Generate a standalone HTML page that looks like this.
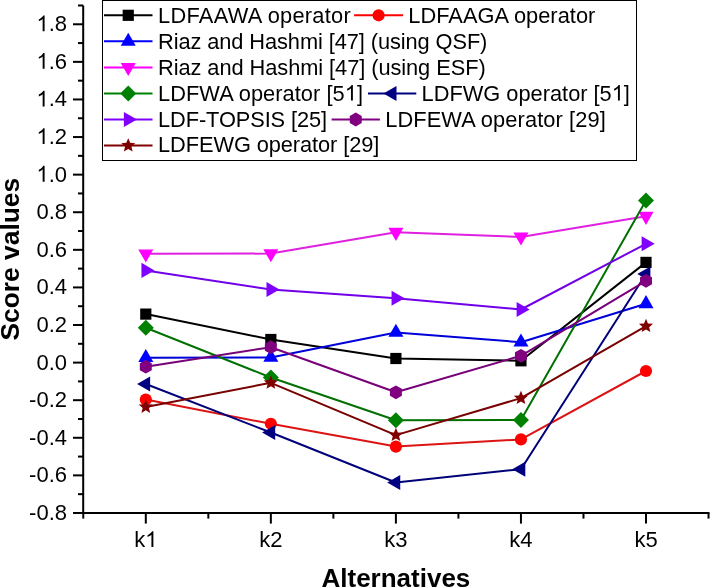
<!DOCTYPE html><html><head><meta charset="utf-8"><style>html,body{margin:0;padding:0;background:#fff;width:710px;height:588px;overflow:hidden}svg{display:block}text{font-family:"Liberation Sans", sans-serif}</style></head><body>
<div style="will-change:transform">
<svg width="710" height="588" viewBox="0 0 710 588">
<rect x="0" y="0" width="710" height="588" fill="#fff"/>
<g stroke="#000" stroke-width="2" fill="none">
<line x1="83.2" y1="5.475999999999999" x2="83.2" y2="514.0"/>
<line x1="82.2" y1="513.0" x2="709.5" y2="513.0"/>
<line x1="73.0" y1="512.97" x2="83.2" y2="512.97"/>
<line x1="78.0" y1="494.17" x2="83.2" y2="494.17"/>
<line x1="73.0" y1="475.38" x2="83.2" y2="475.38"/>
<line x1="78.0" y1="456.58" x2="83.2" y2="456.58"/>
<line x1="73.0" y1="437.78" x2="83.2" y2="437.78"/>
<line x1="78.0" y1="418.99" x2="83.2" y2="418.99"/>
<line x1="73.0" y1="400.19" x2="83.2" y2="400.19"/>
<line x1="78.0" y1="381.40" x2="83.2" y2="381.40"/>
<line x1="73.0" y1="362.60" x2="83.2" y2="362.60"/>
<line x1="78.0" y1="343.80" x2="83.2" y2="343.80"/>
<line x1="73.0" y1="325.01" x2="83.2" y2="325.01"/>
<line x1="78.0" y1="306.21" x2="83.2" y2="306.21"/>
<line x1="73.0" y1="287.42" x2="83.2" y2="287.42"/>
<line x1="78.0" y1="268.62" x2="83.2" y2="268.62"/>
<line x1="73.0" y1="249.82" x2="83.2" y2="249.82"/>
<line x1="78.0" y1="231.03" x2="83.2" y2="231.03"/>
<line x1="73.0" y1="212.23" x2="83.2" y2="212.23"/>
<line x1="78.0" y1="193.44" x2="83.2" y2="193.44"/>
<line x1="73.0" y1="174.64" x2="83.2" y2="174.64"/>
<line x1="78.0" y1="155.84" x2="83.2" y2="155.84"/>
<line x1="73.0" y1="137.05" x2="83.2" y2="137.05"/>
<line x1="78.0" y1="118.25" x2="83.2" y2="118.25"/>
<line x1="73.0" y1="99.46" x2="83.2" y2="99.46"/>
<line x1="78.0" y1="80.66" x2="83.2" y2="80.66"/>
<line x1="73.0" y1="61.86" x2="83.2" y2="61.86"/>
<line x1="78.0" y1="43.07" x2="83.2" y2="43.07"/>
<line x1="73.0" y1="24.27" x2="83.2" y2="24.27"/>
<line x1="78.0" y1="5.48" x2="83.2" y2="5.48"/>
<line x1="83.28" y1="513.0" x2="83.28" y2="518.6"/>
<line x1="145.80" y1="513.0" x2="145.80" y2="523.6"/>
<line x1="208.33" y1="513.0" x2="208.33" y2="518.6"/>
<line x1="270.85" y1="513.0" x2="270.85" y2="523.6"/>
<line x1="333.38" y1="513.0" x2="333.38" y2="518.6"/>
<line x1="395.90" y1="513.0" x2="395.90" y2="523.6"/>
<line x1="458.43" y1="513.0" x2="458.43" y2="518.6"/>
<line x1="520.95" y1="513.0" x2="520.95" y2="523.6"/>
<line x1="583.48" y1="513.0" x2="583.48" y2="518.6"/>
<line x1="646.00" y1="513.0" x2="646.00" y2="523.6"/>
<line x1="708.53" y1="513.0" x2="708.53" y2="518.6"/>
</g>
<g font-size="22" text-anchor="end" fill="#000">
<text id="t0" x="67" y="519.97">-0.8</text>
<text id="t1" x="67" y="482.38">-0.6</text>
<text id="t2" x="67" y="444.78">-0.4</text>
<text id="t3" x="67" y="407.19">-0.2</text>
<text id="t4" x="67" y="369.60">0.0</text>
<text id="t5" x="67" y="332.01">0.2</text>
<text id="t6" x="67" y="294.42">0.4</text>
<text id="t7" x="67" y="256.82">0.6</text>
<text id="t8" x="67" y="219.23">0.8</text>
<text id="t9" x="67" y="181.64"><tspan fill="transparent">1</tspan>.0</text><path d="M763 0h-180v1147q-65 -62 -170.5 -124t-189.5 -93v174q151 71 264 172t160 196h116v-1472z" fill="#000" transform="translate(36.391 181.640) scale(0.010742 -0.010742)"/>
<text id="t10" x="67" y="144.05"><tspan fill="transparent">1</tspan>.2</text><path d="M763 0h-180v1147q-65 -62 -170.5 -124t-189.5 -93v174q151 71 264 172t160 196h116v-1472z" fill="#000" transform="translate(36.391 144.050) scale(0.010742 -0.010742)"/>
<text id="t11" x="67" y="106.46"><tspan fill="transparent">1</tspan>.4</text><path d="M763 0h-180v1147q-65 -62 -170.5 -124t-189.5 -93v174q151 71 264 172t160 196h116v-1472z" fill="#000" transform="translate(36.391 106.460) scale(0.010742 -0.010742)"/>
<text id="t12" x="67" y="68.86"><tspan fill="transparent">1</tspan>.6</text><path d="M763 0h-180v1147q-65 -62 -170.5 -124t-189.5 -93v174q151 71 264 172t160 196h116v-1472z" fill="#000" transform="translate(36.391 68.860) scale(0.010742 -0.010742)"/>
<text id="t13" x="67" y="31.27"><tspan fill="transparent">1</tspan>.8</text><path d="M763 0h-180v1147q-65 -62 -170.5 -124t-189.5 -93v174q151 71 264 172t160 196h116v-1472z" fill="#000" transform="translate(36.391 31.270) scale(0.010742 -0.010742)"/>
</g>
<g font-size="22" text-anchor="middle" fill="#000">
<text id="t14" x="145.80" y="547">k<tspan fill="transparent">1</tspan></text><path d="M763 0h-180v1147q-65 -62 -170.5 -124t-189.5 -93v174q151 71 264 172t160 196h116v-1472z" fill="#000" transform="translate(145.175 547.000) scale(0.010742 -0.010742)"/>
<text id="t15" x="270.85" y="547">k2</text>
<text id="t16" x="395.90" y="547">k3</text>
<text id="t17" x="520.95" y="547">k4</text>
<text id="t18" x="646.00" y="547">k5</text>
</g>
<text x="19.4" y="259.2" font-size="26.4" font-weight="bold" text-anchor="middle" transform="rotate(-90 19.4 259.2)">Score values</text>
<text x="395.9" y="587" font-size="26" font-weight="bold" text-anchor="middle">Alternatives</text>
<polyline points="145.80,314.10 270.85,339.50 395.90,358.50 520.95,360.80 646.00,262.40" fill="none" stroke="#000000" stroke-width="2" stroke-linejoin="round"/>
<rect x="140.20" y="308.50" width="11.20" height="11.20" fill="#000000"/>
<rect x="265.25" y="333.90" width="11.20" height="11.20" fill="#000000"/>
<rect x="390.30" y="352.90" width="11.20" height="11.20" fill="#000000"/>
<rect x="515.35" y="355.20" width="11.20" height="11.20" fill="#000000"/>
<rect x="640.40" y="256.80" width="11.20" height="11.20" fill="#000000"/>
<polyline points="145.80,399.50 270.85,423.80 395.90,446.60 520.95,439.40 646.00,371.00" fill="none" stroke="#DC1414" stroke-width="2" stroke-linejoin="round"/>
<circle cx="145.80" cy="399.50" r="6.1" fill="#FF0000"/>
<circle cx="270.85" cy="423.80" r="6.1" fill="#FF0000"/>
<circle cx="395.90" cy="446.60" r="6.1" fill="#FF0000"/>
<circle cx="520.95" cy="439.40" r="6.1" fill="#FF0000"/>
<circle cx="646.00" cy="371.00" r="6.1" fill="#FF0000"/>
<polyline points="145.80,357.70 270.85,357.40 395.90,332.40 520.95,342.20 646.00,303.80" fill="none" stroke="#0000D8" stroke-width="2" stroke-linejoin="round"/>
<polygon points="145.80,349.00 153.33,362.05 138.27,362.05" fill="#0000FF"/>
<polygon points="270.85,348.70 278.38,361.75 263.32,361.75" fill="#0000FF"/>
<polygon points="395.90,323.70 403.43,336.75 388.37,336.75" fill="#0000FF"/>
<polygon points="520.95,333.50 528.48,346.55 513.42,346.55" fill="#0000FF"/>
<polygon points="646.00,295.10 653.53,308.15 638.47,308.15" fill="#0000FF"/>
<polyline points="145.80,253.80 270.85,253.60 395.90,232.20 520.95,236.90 646.00,216.20" fill="none" stroke="#E020E0" stroke-width="2" stroke-linejoin="round"/>
<polygon points="145.80,262.50 138.27,249.45 153.33,249.45" fill="#FF00FF"/>
<polygon points="270.85,262.30 263.32,249.25 278.38,249.25" fill="#FF00FF"/>
<polygon points="395.90,240.90 388.37,227.85 403.43,227.85" fill="#FF00FF"/>
<polygon points="520.95,245.60 513.42,232.55 528.48,232.55" fill="#FF00FF"/>
<polygon points="646.00,224.90 638.47,211.85 653.53,211.85" fill="#FF00FF"/>
<polyline points="145.80,327.70 270.85,377.50 395.90,420.30 520.95,420.10 646.00,200.40" fill="none" stroke="#007000" stroke-width="2" stroke-linejoin="round"/>
<polygon points="145.80,319.70 153.80,327.70 145.80,335.70 137.80,327.70" fill="#008000"/>
<polygon points="270.85,369.50 278.85,377.50 270.85,385.50 262.85,377.50" fill="#008000"/>
<polygon points="395.90,412.30 403.90,420.30 395.90,428.30 387.90,420.30" fill="#008000"/>
<polygon points="520.95,412.10 528.95,420.10 520.95,428.10 512.95,420.10" fill="#008000"/>
<polygon points="646.00,192.40 654.00,200.40 646.00,208.40 638.00,200.40" fill="#008000"/>
<polyline points="145.80,384.00 270.85,432.50 395.90,482.50 520.95,469.20 646.00,274.00" fill="none" stroke="#000078" stroke-width="2" stroke-linejoin="round"/>
<polygon points="137.10,384.00 150.15,376.47 150.15,391.53" fill="#000080"/>
<polygon points="262.15,432.50 275.20,424.97 275.20,440.03" fill="#000080"/>
<polygon points="387.20,482.50 400.25,474.97 400.25,490.03" fill="#000080"/>
<polygon points="512.25,469.20 525.30,461.67 525.30,476.73" fill="#000080"/>
<polygon points="637.30,274.00 650.35,266.47 650.35,281.53" fill="#000080"/>
<polyline points="145.80,270.40 270.85,289.50 395.90,298.30 520.95,309.50 646.00,243.80" fill="none" stroke="#7000E8" stroke-width="2" stroke-linejoin="round"/>
<polygon points="154.50,270.40 141.45,277.93 141.45,262.87" fill="#8000FF"/>
<polygon points="279.55,289.50 266.50,297.03 266.50,281.97" fill="#8000FF"/>
<polygon points="404.60,298.30 391.55,305.83 391.55,290.77" fill="#8000FF"/>
<polygon points="529.65,309.50 516.60,317.03 516.60,301.97" fill="#8000FF"/>
<polygon points="654.70,243.80 641.65,251.33 641.65,236.27" fill="#8000FF"/>
<polyline points="145.80,366.70 270.85,347.20 395.90,392.30 520.95,355.80 646.00,280.80" fill="none" stroke="#780078" stroke-width="2" stroke-linejoin="round"/>
<polygon points="145.80,359.80 151.78,363.25 151.78,370.15 145.80,373.60 139.82,370.15 139.82,363.25" fill="#800080"/>
<polygon points="270.85,340.30 276.83,343.75 276.83,350.65 270.85,354.10 264.87,350.65 264.87,343.75" fill="#800080"/>
<polygon points="395.90,385.40 401.88,388.85 401.88,395.75 395.90,399.20 389.92,395.75 389.92,388.85" fill="#800080"/>
<polygon points="520.95,348.90 526.93,352.35 526.93,359.25 520.95,362.70 514.97,359.25 514.97,352.35" fill="#800080"/>
<polygon points="646.00,273.90 651.98,277.35 651.98,284.25 646.00,287.70 640.02,284.25 640.02,277.35" fill="#800080"/>
<polyline points="145.80,406.90 270.85,382.80 395.90,435.10 520.95,398.10 646.00,326.10" fill="none" stroke="#780000" stroke-width="2" stroke-linejoin="round"/>
<polygon points="145.80,399.50 147.76,404.21 152.84,404.61 148.97,407.93 150.15,412.89 145.80,410.23 141.45,412.89 142.63,407.93 138.76,404.61 143.84,404.21" fill="#800000"/>
<polygon points="270.85,375.40 272.81,380.11 277.89,380.51 274.02,383.83 275.20,388.79 270.85,386.13 266.50,388.79 267.68,383.83 263.81,380.51 268.89,380.11" fill="#800000"/>
<polygon points="395.90,427.70 397.86,432.41 402.94,432.81 399.07,436.13 400.25,441.09 395.90,438.43 391.55,441.09 392.73,436.13 388.86,432.81 393.94,432.41" fill="#800000"/>
<polygon points="520.95,390.70 522.91,395.41 527.99,395.81 524.12,399.13 525.30,404.09 520.95,401.43 516.60,404.09 517.78,399.13 513.91,395.81 518.99,395.41" fill="#800000"/>
<polygon points="646.00,318.70 647.96,323.41 653.04,323.81 649.17,327.13 650.35,332.09 646.00,329.43 641.65,332.09 642.83,327.13 638.96,323.81 644.04,323.41" fill="#800000"/>
<rect x="102.5" y="0.5" width="534" height="160" fill="#fff" stroke="#000" stroke-width="1"/>
<line x1="104" y1="15.30" x2="152.5" y2="15.30" stroke="#000000" stroke-width="2"/>
<rect x="122.65" y="9.70" width="11.20" height="11.20" fill="#000000"/>
<text id="t19" x="158" y="22.70" font-size="21.8" fill="#000" textLength="192.75" lengthAdjust="spacing">LDFAAWA operator</text>
<line x1="354.1" y1="15.30" x2="403.1" y2="15.30" stroke="#FF0000" stroke-width="2"/>
<circle cx="378.60" cy="15.30" r="6.1" fill="#FF0000"/>
<text id="t20" x="408.3" y="22.70" font-size="21.8" fill="#000" textLength="187.00" lengthAdjust="spacing">LDFAAGA operator</text>
<line x1="104" y1="41.35" x2="152.5" y2="41.35" stroke="#0000FF" stroke-width="2"/>
<polygon points="128.25,32.65 135.78,45.70 120.72,45.70" fill="#0000FF"/>
<text id="t21" x="158" y="48.65" font-size="21.8" fill="#000" textLength="329.39" lengthAdjust="spacing">Riaz and Hashmi [47] (using QSF)</text>
<line x1="104" y1="67.40" x2="152.5" y2="67.40" stroke="#FF00FF" stroke-width="2"/>
<polygon points="128.25,76.10 120.72,63.05 135.78,63.05" fill="#FF00FF"/>
<text id="t22" x="158" y="74.60" font-size="21.8" fill="#000" textLength="327.67" lengthAdjust="spacing">Riaz and Hashmi [47] (using ESF)</text>
<line x1="104" y1="93.45" x2="152.5" y2="93.45" stroke="#008000" stroke-width="2"/>
<polygon points="128.25,85.45 136.25,93.45 128.25,101.45 120.25,93.45" fill="#008000"/>
<text id="t23" x="158" y="100.55" font-size="21.8" fill="#000" textLength="205.00" lengthAdjust="spacing">LDFWA operator [5<tspan fill="transparent">1</tspan>]</text><path d="M763 0h-180v1147q-65 -62 -170.5 -124t-189.5 -93v174q151 71 264 172t160 196h116v-1472z" fill="#000" transform="translate(344.759 100.550) scale(0.010645 -0.010645)"/>
<line x1="368" y1="93.45" x2="416.3" y2="93.45" stroke="#000080" stroke-width="2"/>
<polygon points="383.45,93.45 396.50,85.92 396.50,100.98" fill="#000080"/>
<text id="t24" x="421.6" y="100.55" font-size="21.8" fill="#000" textLength="208.32" lengthAdjust="spacing">LDFWG operator [5<tspan fill="transparent">1</tspan>]</text><path d="M763 0h-180v1147q-65 -62 -170.5 -124t-189.5 -93v174q151 71 264 172t160 196h116v-1472z" fill="#000" transform="translate(611.741 100.550) scale(0.010645 -0.010645)"/>
<line x1="104" y1="119.50" x2="152.5" y2="119.50" stroke="#8000FF" stroke-width="2"/>
<polygon points="136.95,119.50 123.90,127.03 123.90,111.97" fill="#8000FF"/>
<text id="t25" x="158" y="126.50" font-size="21.8" fill="#000" textLength="169.08" lengthAdjust="spacing">LDF-TOPSIS [25]</text>
<line x1="331.6" y1="119.50" x2="379.9" y2="119.50" stroke="#800080" stroke-width="2"/>
<polygon points="355.75,112.60 361.73,116.05 361.73,122.95 355.75,126.40 349.77,122.95 349.77,116.05" fill="#800080"/>
<text id="t26" x="385.2" y="126.50" font-size="21.8" fill="#000" textLength="220.55" lengthAdjust="spacing">LDFEWA operator [29]</text>
<line x1="104" y1="145.55" x2="152.5" y2="145.55" stroke="#800000" stroke-width="2"/>
<polygon points="128.25,138.15 130.21,142.86 135.29,143.26 131.42,146.58 132.60,151.54 128.25,148.88 123.90,151.54 125.08,146.58 121.21,143.26 126.29,142.86" fill="#800000"/>
<text id="t27" x="158" y="152.45" font-size="21.8" fill="#000" textLength="221.33" lengthAdjust="spacing">LDFEWG operator [29]</text>
</svg></div></body></html>
